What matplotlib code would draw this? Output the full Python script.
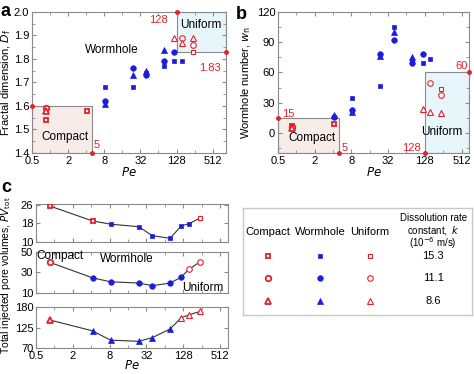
import matplotlib
matplotlib.use('Agg')
import matplotlib.pyplot as plt
from matplotlib.patches import Rectangle
from matplotlib.ticker import NullFormatter
import numpy as np

plt.rcParams['font.family'] = ['Liberation Sans', 'DejaVu Sans']
plt.rcParams['font.size'] = 8

RED = '#e5202b'
BLUE = '#1c1ce0'
GRAY = '#8a8a8a'

# Peclet numbers of the runs
pe = [0.85, 4.2, 8.3, 24, 40, 78, 118, 158, 240]
# regime per run for each k: C compact, W wormhole, U uniform
reg_sq = ['C', 'C', 'W', 'W', 'W', 'W', 'W', 'W', 'U']
reg_ci = ['C', 'W', 'W', 'W', 'W', 'W', 'W', 'U', 'U']
reg_tr = ['C', 'W', 'W', 'W', 'W', 'W', 'U', 'U', 'U']

# (a) fractal dimension
a_sq = [1.54, 1.58, 1.68, 1.68, 1.74, 1.77, 1.79, 1.79, 1.83]
a_ci = [1.59, np.nan, 1.62, 1.76, 1.73, 1.79, 1.83, 1.89, 1.86]
a_tr = [1.58, np.nan, 1.61, 1.73, 1.75, 1.84, 1.89, 1.87, 1.89]

# (b) wormhole number
b_sq = [7, 9, 35, 46, 105, 72, 69, 73, 44]
b_ci = [6, 16, 23, 78, 92, 69, 78, 49, 38]
b_tr = [5, 18, 21, 76, 100, 75, 24, 21, 20]

# (c) total injected pore volumes
c_sq = [25.5, 19.1, 17.7, 16.6, 12.7, 11.6, 16.9, 17.9, 20.3]
c_ci = [39.8, 24.8, 20.9, 19.7, 17.1, 19.7, 25.4, 33, 40.4]
c_tr = [145, 116, 91, 88, 98, 121, 151, 159, 168]

k_vals = ['15.3', '11.1', '8.6']
regimes = ['Compact', 'Wormhole', 'Uniform']
pe_ticks = [0.5, 2, 8, 32, 128, 512]


def mstyle(r, m):
    ms = {'s': 3.4, 'o': 4.0, '^': 4.3}[m]
    if r == 'C':
        return dict(marker=m, ms=ms, mfc='white', mec=RED, mew=1.3)
    if r == 'W':
        return dict(marker=m, ms=ms, mfc=BLUE, mec=BLUE, mew=0.5)
    return dict(marker=m, ms=ms, mfc='white', mec=RED, mew=0.8)


def scatter(ax, xs, ys, regs, m):
    for x, y, r in zip(xs, ys, regs):
        if not np.isnan(y):
            ax.plot(x, y, ls='none', zorder=4, **mstyle(r, m))


def style(ax, xmax, labels=True):
    ax.set_xscale('log', base=2)
    ax.set_xlim(0.5, xmax)
    ax.set_xticks(pe_ticks)
    ax.set_xticks([1, 4, 16, 64, 256], minor=True)
    ax.xaxis.set_minor_formatter(NullFormatter())
    if labels:
        ax.set_xticklabels(['0.5', '2', '8', '32', '128', '512'])
    else:
        ax.set_xticklabels([])
    ax.tick_params(which='both', direction='in', top=True, right=True,
                   color=GRAY, labelsize=8, pad=2)
    ax.tick_params(which='major', length=3)
    ax.tick_params(which='minor', length=2)
    for s in ax.spines.values():
        s.set_color(GRAY)
        s.set_linewidth(0.8)


fig = plt.figure(figsize=(4.74, 3.74), dpi=100)

# ---- panel a
ax = fig.add_axes([0.0675, 0.591, 0.409, 0.377])
xa = 850
style(ax, xa)
ax.set_ylim(1.4, 2.0)
ax.set_yticks(np.arange(1.4, 2.01, 0.1))
ax.set_yticks(np.arange(1.45, 2.0, 0.1), minor=True)
ax.add_patch(Rectangle((0.5, 1.4), 4.5, 0.2, fc='#f8ece8', ec=GRAY, lw=0.8, zorder=1))
ax.add_patch(Rectangle((128, 1.83), xa - 128, 0.17, fc='#e6f6fb', ec=GRAY, lw=0.8, zorder=1))
ax.plot([0.5, 5], [1.6, 1.4], ls='none', marker='o', ms=2.5, color=RED, clip_on=False, zorder=5)
ax.plot([128, xa], [2.0, 1.83], ls='none', marker='o', ms=2.5, color=RED, clip_on=False, zorder=5)
scatter(ax, pe, a_sq, reg_sq, 's')
scatter(ax, pe, a_ci, reg_ci, 'o')
scatter(ax, pe, a_tr, reg_tr, '^')
ax.text(5.4, 1.42, '5', color=RED, fontsize=8)
ax.text(64, 1.965, '128', color=RED, fontsize=8, ha='center', va='center')
ax.text(460, 1.763, '1.83', color=RED, fontsize=8, ha='center', va='center')
ax.text(1.75, 1.47, 'Compact', fontsize=8.5, ha='center', va='center')
ax.text(10.5, 1.838, 'Wormhole', fontsize=8.5, ha='center', va='center')
ax.text(330, 1.944, 'Uniform', fontsize=8.5, ha='center', va='center')
ax.set_xlabel('$Pe$', fontsize=8.5, labelpad=0)
ax.set_ylabel('Fractal dimension, $D_{\\rm f}$', fontsize=8)
ax.yaxis.set_label_coords(-0.1, 0.5)
fig.text(0.002, 0.97, 'a', fontsize=13, fontweight='bold', va='center')

# ---- panel b
ax = fig.add_axes([0.5865, 0.591, 0.403, 0.377])
xb = 680
style(ax, xb)
ax.set_ylim(-20, 120)
ax.set_yticks([0, 30, 60, 90, 120])
ax.set_yticks([-15, 15, 45, 75, 105], minor=True)
ax.add_patch(Rectangle((0.5, -20), 4.5, 35, fc='#f8ece8', ec=GRAY, lw=0.8, zorder=1))
ax.add_patch(Rectangle((128, -20), xb - 128, 80, fc='#e6f6fb', ec=GRAY, lw=0.8, zorder=1))
ax.plot([0.5, 5], [15, -20], ls='none', marker='o', ms=2.5, color=RED, clip_on=False, zorder=5)
ax.plot([128, xb], [-20, 60], ls='none', marker='o', ms=2.5, color=RED, clip_on=False, zorder=5)
scatter(ax, pe, b_sq, reg_sq, 's')
scatter(ax, pe, b_ci, reg_ci, 'o')
scatter(ax, pe, b_tr, reg_tr, '^')
ax.text(0.58, 19, '15', color=RED, fontsize=8, va='center')
ax.text(5.5, -15, '5', color=RED, fontsize=8, va='center')
ax.text(112, -15, '128', color=RED, fontsize=8, ha='right', va='center')
ax.text(xb * 0.97, 66, '60', color=RED, fontsize=8, ha='right', va='center')
ax.text(1.78, -5, 'Compact', fontsize=8.5, ha='center', va='center')
ax.text(245, 1, 'Uniform', fontsize=8.5, ha='center', va='center')
ax.set_xlabel('$Pe$', fontsize=8.5, labelpad=0)
ax.set_ylabel('Wormhole number, $w_{\\rm n}$', fontsize=8)
ax.yaxis.set_label_coords(-0.13, 0.5)
fig.text(0.497, 0.96, 'b', fontsize=13, fontweight='bold', va='center')

# ---- panel c
xc = 690
c_sets = [(c_sq, reg_sq, 's', (10, 26.5), [10, 18, 26], [0.353, 0.102]),
          (c_ci, reg_ci, 'o', (10, 50), [10, 30, 50], [0.2166, 0.1096]),
          (c_tr, reg_tr, '^', (70, 180), [70, 125, 180], [0.0695, 0.1096])]
axes_c = []
for i, (vals, regs, m, yl, yt, (b, h)) in enumerate(c_sets):
    ax = fig.add_axes([0.076, b, 0.405, h])
    style(ax, xc, labels=(i == 2))
    ax.set_ylim(*yl)
    ax.set_yticks(yt)
    ax.plot(pe, vals, color='#333333', lw=0.8, zorder=3)
    scatter(ax, pe, vals, regs, m)
    axes_c.append(ax)
axes_c[2].set_xlabel('$Pe$', fontsize=8.5, labelpad=-1)
axm = axes_c[1]
axm.text(1.25, 46, 'Compact', fontsize=8.5, ha='center', va='center')
axm.text(15, 43, 'Wormhole', fontsize=8.5, ha='center', va='center')
axm.text(270, 15, 'Uniform', fontsize=8.5, ha='center', va='center')
fig.text(0.013, 0.265, 'Total injected pore volumes, $PV_{\\rm tot}$', fontsize=7.5,
         rotation=90, ha='center', va='center')
fig.text(0.002, 0.5, 'c', fontsize=13, fontweight='bold', va='center')

# ---- legend table
lg = fig.add_axes([0.5127, 0.1578, 0.4831, 0.286])
lg.set_xlim(0, 1)
lg.set_ylim(0, 1)
lg.set_xticks([])
lg.set_yticks([])
for s in lg.spines.values():
    s.set_color('#c8c8c8')
    s.set_linewidth(1.0)
col_x = [0.109, 0.336, 0.555]
row_y = [0.55, 0.35, 0.131]
for cx, name in zip(col_x, regimes):
    lg.text(cx, 0.776, name, fontsize=8, ha='center', va='center')
for ty, line in zip([0.905, 0.79, 0.675],
                    ['Dissolution rate', 'constant,  $k$', '(10$^{-6}$ m/s)']):
    lg.text(0.83, ty, line, fontsize=7, ha='center', va='center')
for ry, m, k in zip(row_y, ['s', 'o', '^'], k_vals):
    for cx, r in zip(col_x, ['C', 'W', 'U']):
        lg.plot(cx, ry, ls='none', **mstyle(r, m))
    lg.text(0.83, ry, k, fontsize=8, ha='center', va='center')

fig.savefig('out.png', dpi=100)
